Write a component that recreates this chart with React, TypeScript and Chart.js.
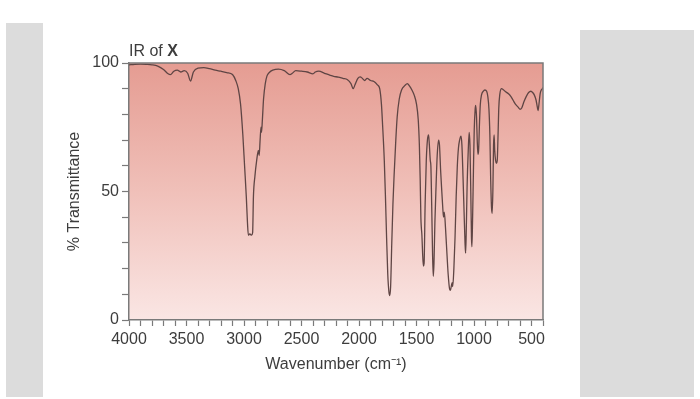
import React, { useEffect, useRef } from "react";
import { Chart, registerables } from "chart.js";

Chart.register(...registerables);

// ---- data ----
const wavenumbers = [
  4000, 3950, 3900, 3850, 3800, 3750, 3700, 3660, 3640, 3610, 3580, 3550, 3520, 3490, 3465, 3440,
  3400, 3350, 3300, 3250, 3200, 3150, 3100, 3070, 3050, 3030, 3010, 2995, 2980, 2970, 2962, 2950,
  2935, 2925, 2918, 2905, 2890, 2875, 2868, 2860, 2852, 2848, 2840, 2830, 2815, 2800, 2780, 2750,
  2700, 2650, 2600, 2580, 2550, 2500, 2450, 2400, 2380, 2350, 2300, 2250, 2220, 2180, 2140, 2100,
  2070, 2050, 2035, 2010, 1990, 1970, 1950, 1930, 1900, 1870, 1840, 1820, 1805, 1795, 1780, 1770,
  1760, 1750, 1740, 1733, 1725, 1715, 1705, 1695, 1680, 1668, 1650, 1630, 1600, 1580, 1560, 1540,
  1520, 1500, 1485, 1475, 1468, 1462, 1458, 1453, 1447, 1440, 1434, 1425, 1415, 1405, 1395, 1388,
  1380, 1375, 1368, 1360, 1354, 1348, 1340, 1330, 1320, 1308, 1300, 1290, 1280, 1272, 1265, 1258,
  1248, 1238, 1225, 1212, 1205, 1198, 1190, 1185, 1175, 1165, 1155, 1145, 1135, 1125, 1113, 1105,
  1095, 1085, 1078, 1073, 1068, 1060, 1050, 1042, 1035, 1028, 1022, 1018, 1012, 1005, 998, 990,
  985, 978, 972, 966, 960, 952, 945, 935, 920, 905, 890, 880, 870, 862, 855, 848,
  842, 836, 830, 825, 820, 812, 805, 798, 792, 785, 775, 760, 750, 730, 700, 680,
  660, 640, 620, 600, 585, 565, 545, 525, 505, 490, 475, 460, 450, 443, 435, 425,
  415, 405, 400,
];
const transmittance = [
  99.3, 99.5, 99.6, 99.5, 99.3, 98.8, 97.5, 95.8, 95.5, 96.8, 97.2, 96.5, 97, 96, 93, 96.5,
  98, 98.2, 97.8, 97.2, 96.8, 96.3, 95.5, 93, 90, 84, 72, 60, 48, 38, 33, 33.5,
  33, 34, 48, 56, 62, 66, 64, 70, 75, 73, 78, 86, 92, 95, 96.3, 97.2,
  97.6, 97, 95.5, 96, 97, 96.8, 96.5, 95.8, 96.5, 96.8, 96, 95.2, 94.8, 94.5, 94, 93.5,
  92, 90, 91.5, 94, 94.6, 94, 93.2, 94, 93.2, 92.8, 91.5, 90, 84, 76, 62, 48,
  32, 18, 11, 9.5, 13, 30, 45, 56, 70, 79, 86, 89.5, 91.3, 92, 91, 89.5,
  87.5, 84, 78, 68, 55, 40, 36, 33, 26, 21, 22, 45, 62, 70, 72, 68,
  62, 60, 45, 25, 17, 22, 38, 52, 64, 70, 68, 58, 50, 44, 40, 42,
  36, 28, 18, 12, 11.5, 13, 14.5, 13, 20, 32, 48, 60, 67, 70, 71.5, 68,
  55, 40, 30, 26, 33, 52, 66, 73, 68, 50, 32, 28.5, 40, 58, 74, 82,
  83.5, 79, 70, 64.5, 66, 77, 84, 87.5, 89, 89.5, 89, 87, 82, 72, 55, 44,
  41.5, 50, 68, 72, 66, 62, 61, 62, 70, 82, 88, 90, 89.8, 89, 88, 87,
  85.5, 84, 83, 82, 82.5, 85, 87, 88.5, 89, 88.5, 87.5, 85.5, 83, 81.5, 84, 88,
  89.5, 90, 90.5,
];
const yTickLabels = [0, 50, 100];
const xTickLabels = [4000, 3500, 3000, 2500, 2000, 1500, 1000, 500];
const chartTitle = ["IR of ", "X"];
const xTitle = "Wavenumber (cm\u207B\u00B9)";
const yTitle = "% Transmittance";

const FONT = "'Liberation Sans', Arial, Helvetica, sans-serif";
const FS = 16;
const TEXT = "#3d3d3d";
const AXIS = "#7a7a7a";

const plotDecor = {
  id: "plotDecor",
  beforeDraw(chart: any) {
    const { ctx, chartArea: a } = chart;
    const g = ctx.createLinearGradient(0, a.top, 0, a.bottom);
    g.addColorStop(0, "rgb(229,156,146)");
    g.addColorStop(0.5, "rgb(240,192,185)");
    g.addColorStop(1, "rgb(250,230,228)");
    ctx.save();
    ctx.fillStyle = g;
    ctx.fillRect(a.left, a.top, a.right - a.left, a.bottom - a.top);
    ctx.restore();
  },
  afterDraw(chart: any) {
    const { ctx, chartArea: a } = chart;
    ctx.save();
    ctx.strokeStyle = AXIS;
    ctx.lineWidth = 1.5;
    ctx.beginPath();
    ctx.moveTo(a.left, a.top);
    ctx.lineTo(a.right, a.top);
    ctx.lineTo(a.right, a.bottom);
    ctx.stroke();
    // title "IR of X"
    ctx.fillStyle = TEXT;
    ctx.textBaseline = "alphabetic";
    ctx.textAlign = "left";
    ctx.font = `${FS}px ${FONT}`;
    const w = ctx.measureText(chartTitle[0]).width;
    ctx.fillText(chartTitle[0], a.left, a.top - 7);
    ctx.font = `bold ${FS}px ${FONT}`;
    ctx.fillText(chartTitle[1], a.left + w, a.top - 7);
    ctx.restore();
  },
};

export default function App() {
  const ref = useRef<HTMLCanvasElement | null>(null);

  useEffect(() => {
    if (!ref.current) return;
    const points = wavenumbers.map((x, i) => ({ x, y: transmittance[i] }));
    const chart = new Chart(ref.current, {
      type: "line",
      data: {
        datasets: [
          {
            data: points,
            borderColor: "#5f4544",
            borderWidth: 1.3,
            pointRadius: 0,
            fill: false,
            cubicInterpolationMode: "monotone",
          },
        ],
      },
      options: {
        responsive: false,
        animation: false,
        layout: { padding: { top: 63, right: 157, left: 0, bottom: 0 } },
        plugins: { legend: { display: false }, tooltip: { enabled: false }, title: { display: false } },
        scales: {
          x: {
            type: "linear",
            reverse: true,
            min: 400,
            max: 4000,
            afterFit: (s: any) => {
              s.height = 79;
            },
            grid: { drawOnChartArea: false, tickLength: 6, color: AXIS, tickWidth: 1.2 },
            border: { display: true, color: AXIS, width: 1.5 },
            ticks: {
              stepSize: 100,
              autoSkip: false,
              maxRotation: 0,
              padding: 4,
              color: TEXT,
              font: { family: FONT, size: FS },
              callback: (v: any) => (xTickLabels.includes(Number(v)) ? String(v) : ""),
            },
            title: {
              display: true,
              text: xTitle,
              color: TEXT,
              font: { family: FONT, size: FS },
              padding: { top: 0, bottom: 25 },
            },
          },
          y: {
            type: "linear",
            min: 0,
            max: 100,
            afterFit: (s: any) => {
              s.width = 129;
            },
            grid: { drawOnChartArea: false, tickLength: 7, color: AXIS, tickWidth: 1.2 },
            border: { display: true, color: AXIS, width: 1.5 },
            ticks: {
              stepSize: 10,
              padding: 3,
              color: TEXT,
              font: { family: FONT, size: FS },
              callback: (v: any) => (yTickLabels.includes(Number(v)) ? String(v) : ""),
            },
            title: {
              display: true,
              text: yTitle,
              color: TEXT,
              font: { family: FONT, size: FS },
              padding: { top: 65, bottom: 0 },
            },
          },
        },
      },
      plugins: [plotDecor],
    });
    return () => chart.destroy();
  }, []);

  return (
    <div style={{ position: "absolute", left: 0, top: 0, width: 700, height: 399, background: "#fff", overflow: "hidden" }}>
      <div style={{ position: "absolute", left: 6, top: 23, width: 37, height: 374, background: "#dcdcdc" }} />
      <div style={{ position: "absolute", left: 580, top: 30, width: 114, height: 367, background: "#dcdcdc" }} />
      <canvas ref={ref} width={700} height={399} style={{ position: "absolute", left: 0, top: 0, width: 700, height: 399 }} />
    </div>
  );
}
